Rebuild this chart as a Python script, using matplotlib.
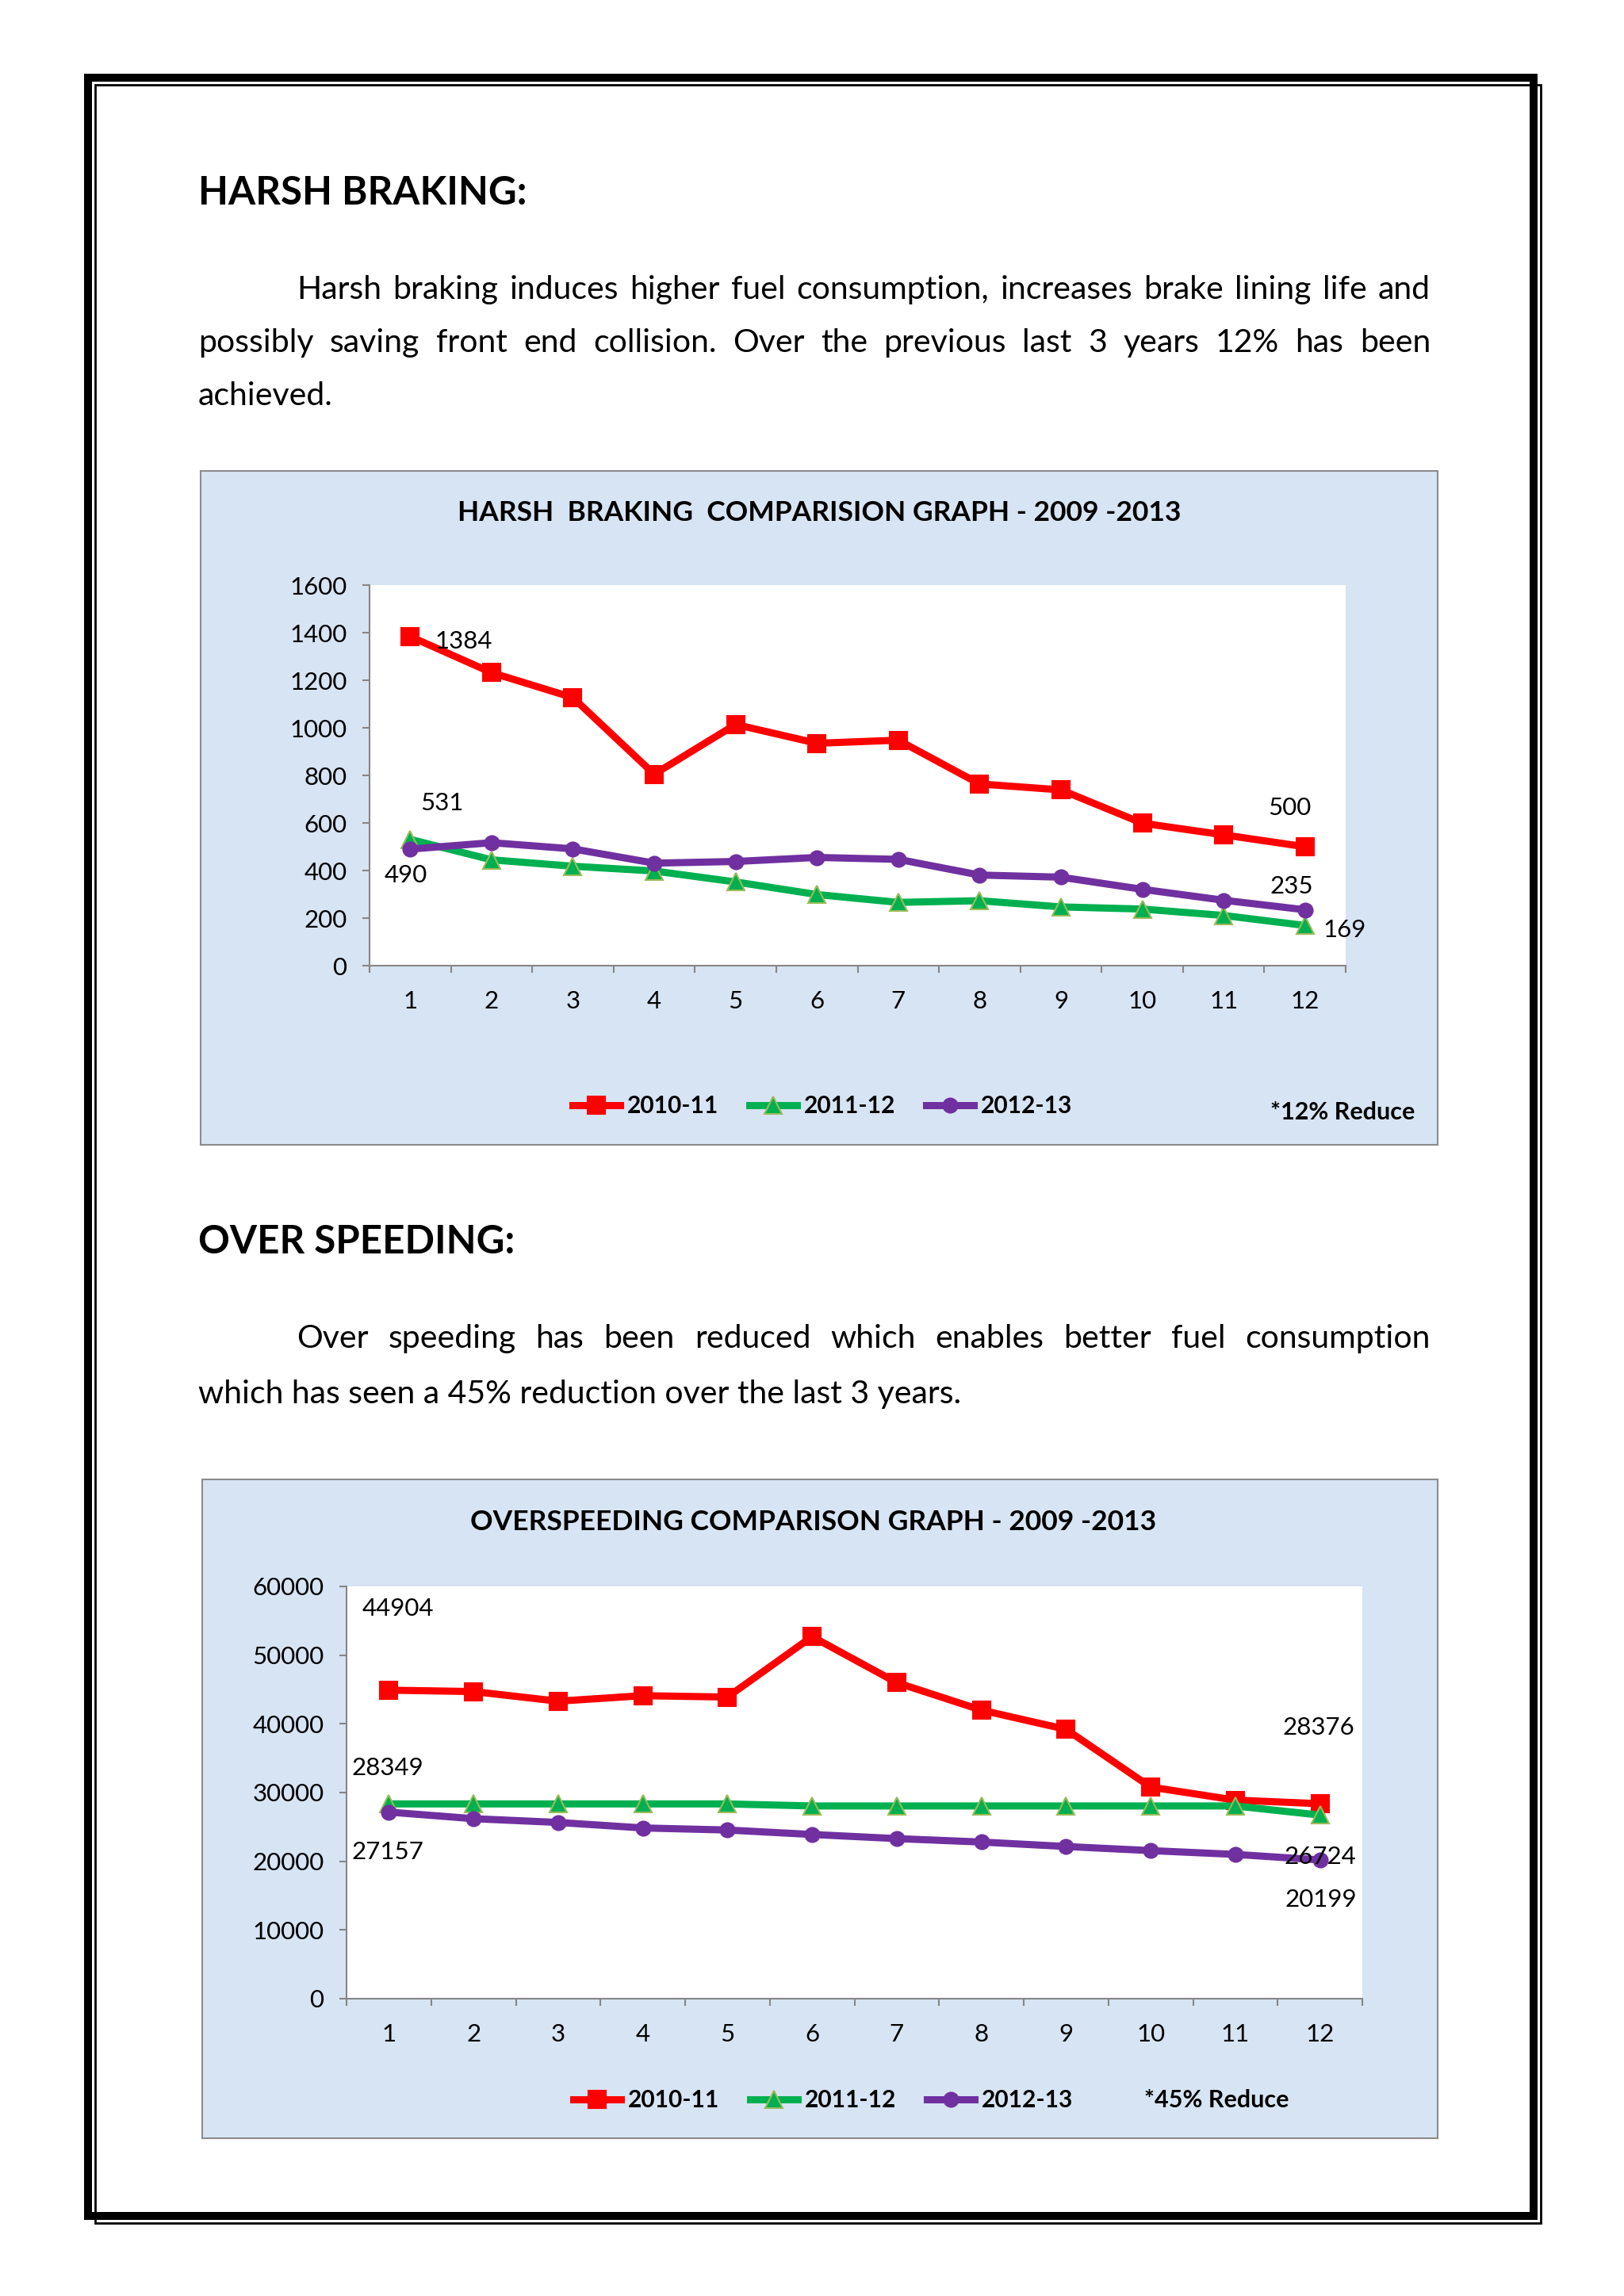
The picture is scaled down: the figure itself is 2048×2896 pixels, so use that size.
import matplotlib
matplotlib.use("Agg")
import matplotlib.pyplot as plt
from matplotlib.patches import Rectangle

W, H = 2048, 2896
plt.rcParams['font.family'] = ['Lato', 'DejaVu Sans']

# ---- data ----
months = list(range(1, 13))
series_names = ['2010-11', '2011-12', '2012-13']

hb_2010 = [1384, 1232, 1127, 805, 1014, 935, 948, 764, 739, 599, 550, 500]
hb_2011 = [531, 445, 418, 398, 352, 299, 266, 273, 247, 238, 211, 169]
hb_2012 = [490, 517, 491, 431, 438, 455, 447, 381, 372, 321, 275, 235]

os_2010 = [44904, 44700, 43300, 44100, 43900, 52700, 46000, 42000, 39200, 30800, 28900, 28376]
os_2011 = [28349, 28349, 28349, 28349, 28349, 28050, 28050, 28050, 28050, 28050, 28050, 26724]
os_2012 = [27157, 26200, 25650, 24850, 24550, 23900, 23300, 22800, 22150, 21550, 21000, 20199]

# labels shown on the charts: (text, x, y)
hb_labels = [('1384', 1.66, 1365), ('531', 1.39, 683), ('490', 0.95, 380),
             ('500', 11.81, 663), ('235', 11.84, 333), ('169', 12.49, 150)]
os_labels = [('44904', 1.11, 56770), ('28349', 0.99, 33580), ('27157', 0.99, 21400),
             ('28376', 11.98, 39460), ('26724', 12.0, 20650), ('20199', 12.01, 14420)]

colors = ['#FF0000', '#00B050', '#7030A0']
markers = ['s', '^', 'o']
msizes = [16, 16, 13]
medges = ['#FF0000', '#9BBB59', '#7030A0']

fig = plt.figure(figsize=(W / 100, H / 100), dpi=100)


def fx(x):
    return x / W


def fy(y):
    return 1 - y / H


# page border (thick + thin offset)
for (l, t, r, b, lw) in [(110.5, 98, 1934, 2795, 7.2), (119.5, 107, 1943, 2804, 2.0)]:
    fig.patches.append(Rectangle((fx(l), fy(b)), (r - l) / W, (b - t) / H,
                                 transform=fig.transFigure, fill=False,
                                 ec='black', lw=lw, joinstyle='miter', zorder=-10))

renderer = fig.canvas.get_renderer()


def justify(words, x0, x1, y, size):
    texts = [fig.text(0, fy(y), w, fontsize=size, va='baseline', ha='left') for w in words]
    widths = [t.get_window_extent(renderer).width for t in texts]
    gap = (x1 - x0 - sum(widths)) / (len(words) - 1)
    x = x0
    for t, w in zip(texts, widths):
        t.set_x(fx(x))
        x += w + gap


def plain(s, x0, y, size, weight='normal'):
    fig.text(fx(x0), fy(y), s, fontsize=size, va='baseline', ha='left', weight=weight)


# ---- text ----
plain('HARSH BRAKING:', 250, 258, 35.5, 'bold')
justify('Harsh braking induces higher fuel consumption, increases brake lining life and'.split(),
        374, 1804, 377, 29.5)
justify('possibly saving front end collision. Over the previous last 3 years 12% has been'.split(),
        250, 1804, 444, 29.5)
plain('achieved.', 250, 511, 29.5)

plain('OVER SPEEDING:', 250, 1581, 35.5, 'bold')
justify('Over speeding has been reduced which enables better fuel consumption'.split(),
        374, 1804, 1700, 29.5)
plain('which has seen a 45% reduction over the last 3 years.', 250, 1770, 29.5)


def chart(box, plot, title, title_pos, data, ymax, ystep, labels, legend_y, note, note_pos):
    l, t, r, b = box
    fig.patches.append(Rectangle((fx(l), fy(b)), (r - l) / W, (b - t) / H,
                                 transform=fig.transFigure, fc='#d7e4f3',
                                 ec='#8c8c8c', lw=1.5, zorder=-5))
    fig.text(fx(title_pos[0]), fy(title_pos[1]), title, fontsize=25.5, weight='bold',
             ha='center', va='center')
    pl, pt, pr, pb = plot
    ax = fig.add_axes([fx(pl), fy(pb), (pr - pl) / W, (pb - pt) / H])
    ax.set_facecolor('white')
    handles = []
    for vals, name, c, m, ms, me in zip(data, series_names, colors, markers, msizes, medges):
        h, = ax.plot(months, vals, color=c, lw=6.5, marker=m, ms=ms, mfc=c, mec=me,
                     mew=1.5, label=name, clip_on=False)
        handles.append(h)
    for s, x, y in labels:
        ax.text(x, y, s, fontsize=22.5, ha='center', va='center')
    ax.set_xlim(0.5, 12.5)
    ax.set_ylim(0, ymax)
    ax.set_yticks(range(0, ymax + 1, ystep))
    ax.set_xticks(months)
    ax.set_xticks([m + 0.5 for m in range(0, 13)], minor=True)
    for sp in ['top', 'right']:
        ax.spines[sp].set_visible(False)
    for sp in ['left', 'bottom']:
        ax.spines[sp].set_color('#868686')
        ax.spines[sp].set_linewidth(1.5)
    ax.tick_params(axis='y', length=6.5, width=1.5, color='#868686', labelsize=22.5, pad=14)
    ax.tick_params(axis='x', which='major', length=0, labelsize=22.5, pad=22)
    ax.tick_params(axis='x', which='minor', length=6.5, width=1.5, color='#868686')
    fig.legend(handles=handles, loc='center', bbox_to_anchor=(fx((l + r) / 2 + 4), fy(legend_y)),
               ncol=3, frameon=False, prop={'size': 21.5, 'weight': 'bold'},
               handlelength=2.0, handletextpad=0.3, columnspacing=1.3)
    fig.text(fx(note_pos[0]), fy(note_pos[1]), note, fontsize=22, weight='bold',
             ha='left', va='center')


chart((253, 594, 1813, 1444), (466, 738, 1697, 1218),
      'HARSH  BRAKING  COMPARISION GRAPH - 2009 -2013', (1033, 647),
      [hb_2010, hb_2011, hb_2012], 1600, 200, hb_labels, 1395, '*12% Reduce', (1602, 1403))

chart((255, 1866, 1813, 2697), (437, 2001, 1718, 2521),
      'OVERSPEEDING COMPARISON GRAPH - 2009 -2013', (1026, 1920),
      [os_2010, os_2011, os_2012], 60000, 10000, os_labels, 2649, '*45% Reduce', (1443, 2649))

fig.savefig('out.png', dpi=100, facecolor='white')
